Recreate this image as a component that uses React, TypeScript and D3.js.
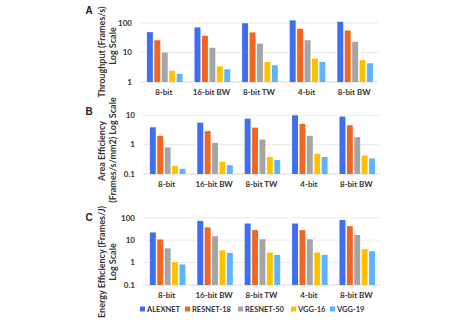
import React from "react";
import * as d3 from "d3";

const categories = ["8-bit", "16-bit BW", "8-bit TW", "4-bit", "8-bit BW"];
const seriesNames = ["ALEXNET", "RESNET-18", "RESNET-50", "VGG-16", "VGG-19"];
const seriesColors = ["#3F6EF0", "#F26522", "#A5A5A5", "#FFC000", "#5EB3FF"];

// values per category: [ALEXNET, RESNET-18, RESNET-50, VGG-16, VGG-19]
const throughput = [
  [49, 26, 10, 2.4, 1.9],
  [71, 37, 14.5, 3.4, 2.7],
  [98, 48, 20, 4.8, 3.7],
  [123, 64, 26, 6.2, 4.8],
  [110, 56, 23, 5.5, 4.3],
];
const areaEff = [
  [3.9, 2.0, 0.8, 0.19, 0.15],
  [5.6, 2.9, 1.15, 0.26, 0.2],
  [7.7, 3.8, 1.5, 0.38, 0.3],
  [10, 5.1, 2.0, 0.49, 0.38],
  [9.0, 4.6, 1.8, 0.43, 0.34],
];
const energyEff = [
  [22, 10.7, 4.3, 1.05, 0.83],
  [72, 37, 15, 3.5, 2.7],
  [55, 28, 11, 2.8, 2.2],
  [55, 28, 11, 2.8, 2.2],
  [80, 42, 17, 4.0, 3.2],
];

const ticksA = [1, 10, 100];
const ticksB = [0.1, 1, 10];
const ticksC = [0.1, 1, 10, 100];

const FONT = "Lato, 'Open Sans', sans-serif";

type PanelProps = {
  letter: string;
  data: number[][];
  ticks: number[];
  x0: number;
  x1: number;
  yTop: number;
  yBottom: number;
  labelY: number;
  letterY: number;
  titleLines: { text: string; x: number; cy: number }[];
};

function Panel(p: PanelProps) {
  const domain = [p.ticks[0], p.ticks[p.ticks.length - 1]];
  const y = d3.scaleLog().domain(domain).range([p.yBottom, p.yTop]);
  const x = d3.scaleBand<string>().domain(categories).range([p.x0, p.x1]);
  const bw = x.bandwidth();
  const inner = d3
    .scaleBand<string>()
    .domain(seriesNames)
    .range([bw * 0.145, bw * 0.895])
    .paddingInner(0.2);
  return (
    <g>
      {p.ticks.map((t) => (
        <g key={t}>
          <line
            x1={p.x0}
            x2={p.x1}
            y1={y(t)}
            y2={y(t)}
            stroke={t === domain[0] ? "#D9D9D9" : "#EBEBEB"}
            strokeWidth={1}
          />
          <text
            x={p.x0 - 8}
            y={y(t)}
            dy="0.35em"
            textAnchor="end"
            fontSize={8}
            fontWeight={700}
            fontFamily={FONT}
            fill="#333"
          >
            {String(t)}
          </text>
        </g>
      ))}
      {p.data.map((row, ci) =>
        row.map((v, si) => (
          <rect
            key={ci + "-" + si}
            x={(x(categories[ci]) as number) + (inner(seriesNames[si]) as number)}
            y={y(v)}
            width={inner.bandwidth()}
            height={p.yBottom - y(v)}
            fill={seriesColors[si]}
          />
        ))
      )}
      {categories.map((c) => (
        <text
          key={c}
          x={(x(c) as number) + bw / 2}
          y={p.labelY}
          dy="0.35em"
          textAnchor="middle"
          fontSize={8}
          fontWeight={700}
          fontFamily={FONT}
          fill="#333"
        >
          {c}
        </text>
      ))}
      <text
        x={89}
        y={p.letterY}
        dy="0.35em"
        textAnchor="middle"
        fontSize={10}
        fontWeight={700}
        fontFamily="'Liberation Sans', Arial, sans-serif"
        fill="#222"
      >
        {p.letter}
      </text>
      {p.titleLines.map((l, i) => (
        <text
          key={i}
          transform={`translate(${l.x},${l.cy}) rotate(-90)`}
          textAnchor="middle"
          dy="0.35em"
          fontSize={9}
          fontWeight={700}
          fontFamily={FONT}
          fill="#333"
        >
          {l.text}
        </text>
      ))}
    </g>
  );
}

export default function App() {
  const legendX = [142, 187, 240, 293, 332];
  return (
    <svg
      width={474}
      height={326}
      style={{ position: "absolute", left: 0, top: 0, background: "#fff" }}
    >
      <rect width={474} height={326} fill="#fff" />
      <Panel
        letter="A"
        data={throughput}
        ticks={ticksA}
        x0={140}
        x1={378}
        yTop={23}
        yBottom={82}
        labelY={92}
        letterY={10}
        titleLines={[
          { text: "Throughput (Frames/s)", x: 102, cy: 52 },
          { text: "Log Scale", x: 113, cy: 46 },
        ]}
      />
      <Panel
        letter="B"
        data={areaEff}
        ticks={ticksB}
        x0={143}
        x1={380}
        yTop={115.3}
        yBottom={174}
        labelY={184}
        letterY={111}
        titleLines={[
          { text: "Area Efficiency", x: 102, cy: 151 },
          { text: "(Frames/s/mm2)  Log Scale", x: 113, cy: 150 },
        ]}
      />
      <Panel
        letter="C"
        data={energyEff}
        ticks={ticksC}
        x0={143}
        x1={380}
        yTop={217.7}
        yBottom={285}
        labelY={295}
        letterY={217}
        titleLines={[
          { text: "Energy Efficiency (Frames/J)", x: 102, cy: 262 },
          { text: "Log Scale", x: 113, cy: 262 },
        ]}
      />
      {seriesNames.map((s, i) => (
        <g key={s}>
          <rect x={legendX[i] - 2} y={306.5} width={5} height={5} fill={seriesColors[i]} />
          <text
            x={legendX[i] + 5}
            y={309}
            dy="0.35em"
            fontSize={7.5}
            fontWeight={700}
            fontFamily={FONT}
            fill="#333"
          >
            {s}
          </text>
        </g>
      ))}
    </svg>
  );
}
